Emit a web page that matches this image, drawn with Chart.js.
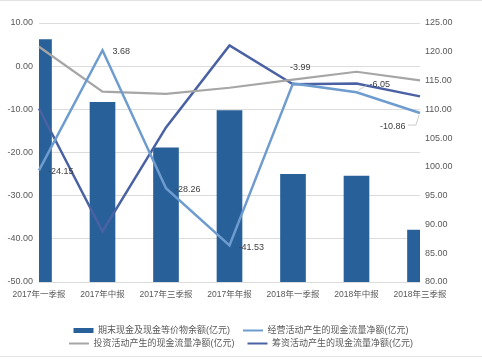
<!DOCTYPE html>
<html>
<head>
<meta charset="utf-8">
<script src="https://cdn.jsdelivr.net/npm/chart.js@4"></script>
<style>
  html, body { margin: 0; padding: 0; background: #fff; }
  #wrap { width: 482px; height: 359px; }
</style>
</head>
<body>
<div id="wrap"><canvas id="chart" width="482" height="359"></canvas></div>
<script>
// data
const categories = ['2017年一季报', '2017年中报', '2017年三季报', '2017年年报', '2018年一季报', '2018年中报', '2018年三季报'];
const cashBalance = [122.1, 111.2, 103.3, 109.8, 98.7, 98.4, 89.0];
const operatingFlow = [-24.15, 3.68, -28.26, -41.53, -3.99, -6.05, -10.86];
const investingFlow = [4.5, -5.9, -6.4, -5.0, -3.1, -1.3, -3.3];
const financingFlow = [-9.8, -38.3, -14.2, 4.8, -4.2, -4.0, -7.0];
const seriesNames = ['期末现金及现金等价物余额(亿元)', '经营活动产生的现金流量净额(亿元)', '投资活动产生的现金流量净额(亿元)', '筹资活动产生的现金流量净额(亿元)'];

// label placement for the operating-flow values: [dx, dy]
const labelOffsets = [[9, 1], [10, 1], [9, 1], [9, 2], [-3, -16], [13, -8], [-40, 13]];

const FONT = "'Liberation Sans', 'Noto Sans CJK SC', sans-serif";
const TEXT = '#595959';

const labelPlugin = {
  id: 'valueLabels',
  afterDatasetsDraw(chart) {
    const ctx = chart.ctx;
    const meta = chart.getDatasetMeta(1);
    ctx.save();
    ctx.font = '9px ' + FONT;
    ctx.fillStyle = '#404040';
    ctx.textAlign = 'left';
    ctx.textBaseline = 'middle';
    meta.data.forEach((pt, i) => {
      const [dx, dy] = labelOffsets[i];
      ctx.fillText(operatingFlow[i].toFixed(2), pt.x + dx, pt.y + dy);
    });
    // leader lines for the last two labels
    ctx.strokeStyle = '#bfbfbf';
    ctx.lineWidth = 0.8;
    const p5 = meta.data[5], p6 = meta.data[6];
    ctx.beginPath();
    ctx.moveTo(p5.x + 2, p5.y - 2);
    ctx.lineTo(p5.x + 10, p5.y - 7);
    ctx.moveTo(p6.x - 12, p6.y + 12);
    ctx.lineTo(p6.x - 4, p6.y + 12);
    ctx.lineTo(p6.x - 1, p6.y + 2);
    ctx.stroke();
    ctx.restore();
  }
};

const framePlugin = {
  id: 'frame',
  beforeDraw(chart) {
    const ctx = chart.ctx;
    ctx.save();
    ctx.fillStyle = '#e3e3e3';
    ctx.fillRect(0, 0, chart.width, 1);
    ctx.fillRect(0, 356, chart.width, 1);
    ctx.restore();
  }
};

new Chart(document.getElementById('chart'), {
  type: 'bar',
  data: {
    labels: categories,
    datasets: [
      {
        type: 'bar',
        label: seriesNames[0],
        data: cashBalance,
        yAxisID: 'y1',
        backgroundColor: '#28609a',
        barThickness: 25,
        clip: 0,
        order: 1
      },
      {
        type: 'line',
        label: seriesNames[1],
        data: operatingFlow,
        yAxisID: 'y',
        borderColor: '#6f9ccf',
        backgroundColor: '#6f9ccf',
        borderWidth: 2.5,
        pointRadius: 0,
        tension: 0,
        order: 0
      },
      {
        type: 'line',
        label: seriesNames[2],
        data: investingFlow,
        yAxisID: 'y',
        borderColor: '#a6a6a6',
        backgroundColor: '#a6a6a6',
        borderWidth: 2.2,
        pointRadius: 0,
        tension: 0,
        order: 0
      },
      {
        type: 'line',
        label: seriesNames[3],
        data: financingFlow,
        yAxisID: 'y',
        borderColor: '#4a62a3',
        backgroundColor: '#4a62a3',
        borderWidth: 2.5,
        pointRadius: 0,
        tension: 0,
        order: 0
      }
    ]
  },
  options: {
    responsive: false,
    animation: false,
    layout: { padding: { top: 23, left: 0, right: 0, bottom: 1 } },
    scales: {
      x: {
        offset: false,
        grid: { display: false },
        border: { display: false },
        ticks: { color: TEXT, font: { size: 8.5, family: FONT }, maxRotation: 0, autoSkip: false, padding: 0 },
        afterFit(scale) { scale.height = 40; }
      },
      y: {
        position: 'left',
        min: -50,
        max: 10,
        ticks: { stepSize: 10, color: TEXT, font: { size: 9, family: FONT }, padding: 6,
          callback: v => v.toFixed(2) },
        grid: { color: '#dcdcdc', lineWidth: 1, drawTicks: false },
        border: { display: false },
        afterFit(scale) { scale.width = 39; }
      },
      y1: {
        position: 'right',
        min: 80,
        max: 125,
        ticks: { stepSize: 5, color: TEXT, font: { size: 9, family: FONT }, padding: 5,
          callback: v => v.toFixed(2) },
        grid: { display: false, drawTicks: false },
        border: { display: false },
        afterFit(scale) { scale.width = 62; }
      }
    },
    plugins: {
      tooltip: { enabled: false },
      legend: {
        position: 'bottom',
        labels: {
          color: TEXT,
          font: { size: 9, family: FONT },
          usePointStyle: true,
          pointStyleWidth: 20,
          boxHeight: 5,
          padding: 4,
          sort: (a, b) => a.datasetIndex - b.datasetIndex,
          generateLabels(chart) {
            const items = Chart.defaults.plugins.legend.labels.generateLabels(chart);
            items.forEach(it => {
              const ds = chart.data.datasets[it.datasetIndex];
              if (ds.type === 'bar') {
                it.pointStyle = 'rect';
                it.lineWidth = 0;
              } else {
                it.pointStyle = 'line';
                it.lineWidth = 2;
                it.strokeStyle = ds.borderColor;
              }
              // spacer so the two legend columns sit apart
              if (it.datasetIndex % 2 === 0) it.text = it.text + '\u3000';
            });
            return items;
          }
        }
      }
    }
  },
  plugins: [labelPlugin, framePlugin]
});
</script>
</body>
</html>
